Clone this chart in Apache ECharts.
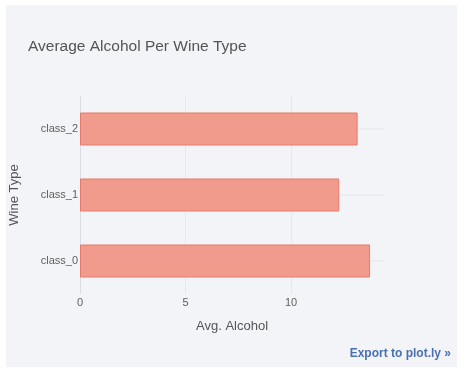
<!DOCTYPE html>
<html>
<head>
<meta charset="utf-8">
<script src="https://cdn.jsdelivr.net/npm/echarts@6/dist/echarts.min.js"></script>
<style>html,body{margin:0;padding:0;background:#fff;}#c{width:474px;height:386px;}</style>
</head>
<body>
<div id="c"></div>
<script>
const categories = ['class_0', 'class_1', 'class_2'];
const avgAlcohol = [13.74, 12.28, 13.15];
const xTicks = [0, 5, 10];

const chart = echarts.init(document.getElementById('c'), null, {renderer: 'canvas'});
const font = 'Liberation Sans, Arial, sans-serif';
const gridSeries = categories.map(c => ({
  type: 'line', z: 1, silent: true, symbol: 'none', animation: false,
  data: [[0, c], [14.4, c]],
  lineStyle: {color: '#E4E7EE', width: 1}
}));
chart.setOption({
  backgroundColor: '#fff',
  animation: false,
  graphic: [{type: 'rect', z: -10, silent: true, shape: {x: 6, y: 5, width: 451, height: 362}, style: {fill: '#F3F4F7'}},
    {type: 'text', right: 23, top: 348, style: {text: 'Export to plot.ly »', fill: '#4A70B0', font: 'bold 12px ' + font}}],
  title: {text: 'Average Alcohol Per Wine Type', left: 23, top: 34,
    textStyle: {color: '#555', fontSize: 15.5, fontWeight: 'normal', fontFamily: font}},
  grid: {left: 78, right: 90, top: 96, height: 198, containLabel: false},
  xAxis: {type: 'value', min: 0, max: 14.4, interval: 5,
    name: 'Avg. Alcohol', nameLocation: 'middle', nameGap: 26,
    nameTextStyle: {color: '#555', fontSize: 13, fontFamily: font},
    axisLine: {show: false}, axisTick: {show: false},
    axisLabel: {color: '#5f5f5f', fontSize: 11, fontFamily: font, margin: 3, showMaxLabel: false},
    splitLine: {show: true, lineStyle: {color: ['#DADDE4', '#E4E7EE', '#E4E7EE', 'rgba(0,0,0,0)'], width: 1}}
  },
  yAxis: {type: 'category', data: categories,
    name: 'Wine Type', nameLocation: 'middle', nameGap: 59, nameRotate: 90,
    nameTextStyle: {color: '#555', fontSize: 13, fontFamily: font},
    axisLine: {show: false}, axisTick: {show: false},
    axisLabel: {color: '#5f5f5f', fontSize: 11, fontFamily: font, margin: 2},
    splitLine: {show: false}
  },
  series: gridSeries.concat([{
    type: 'bar', z: 3, data: avgAlcohol, barWidth: '50%',
    itemStyle: {color: '#F19B8D', borderColor: '#E7796B', borderWidth: 1}
  }])
});
</script>
</body>
</html>
